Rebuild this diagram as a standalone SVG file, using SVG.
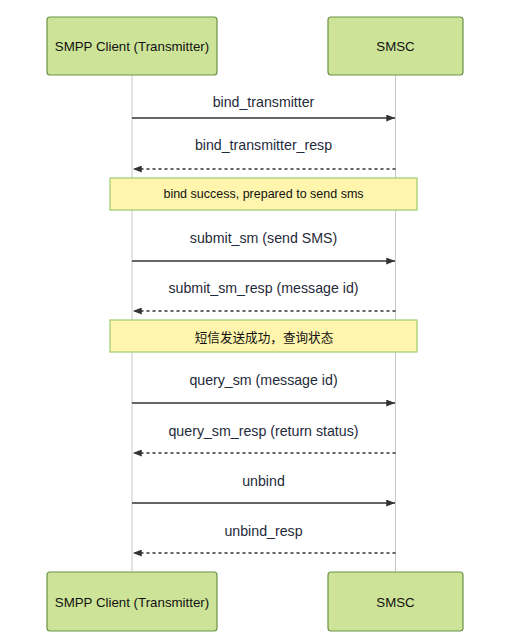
<svg xmlns="http://www.w3.org/2000/svg" width="527" height="644" viewBox="0 0 527 644">
<style>
.actor{fill:#cde498;stroke:#6a9147;stroke-width:1.2}
.life{stroke:#c8c8c8;stroke-width:1}
.atext{font-family:"Liberation Sans",Arial,sans-serif;font-size:13.3px;fill:#111;text-anchor:middle;dominant-baseline:central}
.mtext{font-family:"Liberation Sans",Arial,sans-serif;font-size:14.2px;fill:#1f2a3a;text-anchor:middle}
.msg{stroke:#333;stroke-width:1.5;fill:none}
.dash{stroke-dasharray:3,3}
.note{fill:#fff5ad;stroke:#9ccc6c;stroke-width:1.2}
.ntext{font-family:"Liberation Sans",Arial,"Noto Sans CJK SC",sans-serif;font-size:12.5px;fill:#111;text-anchor:middle;dominant-baseline:central}
</style>
<defs>
<marker id="arrow" viewBox="0 0 10 8" refX="10" refY="4" markerWidth="9" markerHeight="7" markerUnits="userSpaceOnUse" orient="auto">
<path d="M0,0 L10,4 L0,8 z" fill="#333"/>
</marker>
</defs>
<rect width="527" height="644" fill="#fff"/>
<g id="lifelines">
<line class="life" x1="132" y1="75" x2="132" y2="572"/>
<line class="life" x1="395.5" y1="75" x2="395.5" y2="572"/>
</g>
<g id="actor-client-top">
<rect class="actor" x="47" y="17" width="170" height="58" rx="3"/>
<text class="atext" x="132" y="46">SMPP Client (Transmitter)</text>
</g>
<g id="actor-smsc-top">
<rect class="actor" x="328" y="17" width="135" height="58" rx="3"/>
<text class="atext" x="395.5" y="46">SMSC</text>
</g>
<g id="actor-client-bottom">
<rect class="actor" x="47" y="572" width="170" height="59" rx="3"/>
<text class="atext" x="132" y="602">SMPP Client (Transmitter)</text>
</g>
<g id="actor-smsc-bottom">
<rect class="actor" x="328" y="572" width="135" height="59" rx="3"/>
<text class="atext" x="395.5" y="602">SMSC</text>
</g>
<g id="note1">
<rect class="note" x="110" y="178" width="307" height="32"/>
<text class="ntext" x="263.5" y="194">bind success, prepared to send sms</text>
</g>
<g id="note2">
<rect class="note" x="110" y="320" width="307" height="32"/>
<text class="ntext" x="264" y="336" style="font-family:'Noto Sans CJK SC',sans-serif;font-size:12.6px">短信发送成功，查询状态</text>
</g>
<g id="connectors">
<line class="msg" x1="132" y1="118" x2="395" y2="118" marker-end="url(#arrow)"/>
<text class="mtext" x="263.5" y="107">bind_transmitter</text>
<line class="msg dash" x1="395.5" y1="169" x2="133" y2="169" marker-end="url(#arrow)"/>
<text class="mtext" x="263.5" y="150">bind_transmitter_resp</text>
<line class="msg" x1="132" y1="261" x2="395" y2="261" marker-end="url(#arrow)"/>
<text class="mtext" x="263.5" y="243">submit_sm (send SMS)</text>
<line class="msg dash" x1="395.5" y1="311" x2="133" y2="311" marker-end="url(#arrow)"/>
<text class="mtext" x="263.5" y="293">submit_sm_resp (message id)</text>
<line class="msg" x1="132" y1="403" x2="395" y2="403" marker-end="url(#arrow)"/>
<text class="mtext" x="263.5" y="385">query_sm (message id)</text>
<line class="msg dash" x1="395.5" y1="453" x2="133" y2="453" marker-end="url(#arrow)"/>
<text class="mtext" x="263.5" y="436">query_sm_resp (return status)</text>
<line class="msg" x1="132" y1="503" x2="395" y2="503" marker-end="url(#arrow)"/>
<text class="mtext" x="263.5" y="486">unbind</text>
<line class="msg dash" x1="395.5" y1="553" x2="133" y2="553" marker-end="url(#arrow)"/>
<text class="mtext" x="263.5" y="536">unbind_resp</text>
</g>
</svg>
